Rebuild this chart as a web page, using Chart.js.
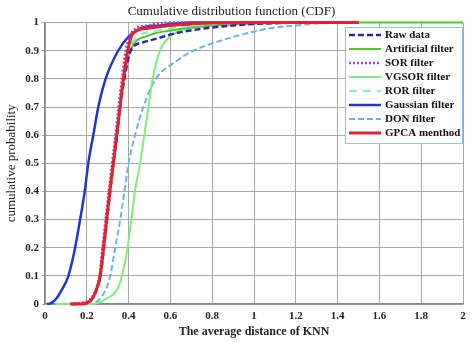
<!DOCTYPE html>
<html>
<head>
<meta charset="utf-8">
<script src="https://cdn.jsdelivr.net/npm/chart.js@4.4.1/dist/chart.umd.min.js"></script>
<style>
    html, body { margin: 0; padding: 0; background: #fff; }
    #wrap { width: 474px; height: 343px; }
</style>
</head>
<body>
<div id="wrap"><canvas id="cdfChart" width="474" height="343"></canvas></div>
<script>
// tick labels
const xTicks = [0, 0.2, 0.4, 0.6, 0.8, 1, 1.2, 1.4, 1.6, 1.8, 2];
const xTickLabels = ["0", "0.2", "0.4", "0.6", "0.8", "1", "1.2", "1.4", "1.6", "1.8", "2"];
const yTicks = [0, 0.1, 0.2, 0.3, 0.4, 0.5, 0.6, 0.7, 0.8, 0.9, 1];
const yTickLabels = ["0", "0.1", "0.2", "0.3", "0.4", "0.5", "0.6", "0.7", "0.8", "0.9", "1"];

// series (x = average KNN distance, y = cumulative probability)
const rawX = [0.13, 0.2, 0.235, 0.265, 0.282, 0.297, 0.312, 0.328, 0.345, 0.36, 0.38, 0.41, 0.47, 0.534, 0.614, 0.77, 0.9, 1.0, 1.3, 1.5];
const rawY = [0, 0.005, 0.03, 0.1, 0.2, 0.3, 0.4, 0.5, 0.6, 0.7, 0.8, 0.9, 0.93, 0.943, 0.96, 0.98, 0.99, 0.995, 1, 1];

const artificialX = [0.13, 0.2, 0.235, 0.265, 0.281, 0.296, 0.311, 0.327, 0.343, 0.359, 0.377, 0.407, 0.5, 0.61, 0.74, 1.0, 1.5, 2.0];
const artificialY = [0, 0.005, 0.03, 0.1, 0.2, 0.3, 0.4, 0.5, 0.6, 0.7, 0.8, 0.9, 0.955, 0.973, 0.985, 0.997, 1, 1];

const sorX = [0.12, 0.2, 0.23, 0.26, 0.275, 0.29, 0.305, 0.321, 0.337, 0.352, 0.368, 0.386, 0.42, 0.49, 0.6, 1.5];
const sorY = [0, 0.01, 0.03, 0.1, 0.2, 0.3, 0.4, 0.5, 0.6, 0.7, 0.8, 0.9, 0.97, 0.99, 1, 1];

const vgsorX = [0.05, 0.22, 0.26, 0.296, 0.344, 0.368, 0.395, 0.413, 0.43, 0.455, 0.475, 0.495, 0.515, 0.55, 0.606, 0.69, 0.85, 1.2, 1.5];
const vgsorY = [0, 0, 0.005, 0.02, 0.05, 0.1, 0.2, 0.3, 0.4, 0.5, 0.6, 0.7, 0.8, 0.9, 0.955, 0.98, 0.995, 1, 1];

const rorX = [0.13, 0.2, 0.235, 0.263, 0.279, 0.294, 0.309, 0.325, 0.341, 0.357, 0.373, 0.4, 0.44, 0.52, 0.65, 1.0, 1.5];
const rorY = [0, 0.005, 0.03, 0.1, 0.2, 0.3, 0.4, 0.5, 0.6, 0.7, 0.8, 0.9, 0.95, 0.968, 0.985, 0.998, 1];

const gaussianX = [0.01, 0.025, 0.05, 0.08, 0.112, 0.144, 0.168, 0.19, 0.207, 0.231, 0.255, 0.29, 0.35, 0.4, 0.46, 0.55, 0.7, 1.5];
const gaussianY = [0, 0.002, 0.015, 0.05, 0.1, 0.2, 0.3, 0.4, 0.5, 0.6, 0.7, 0.8, 0.9, 0.95, 0.98, 0.99, 1, 1];

const donX = [0.2, 0.25, 0.29, 0.312, 0.336, 0.36, 0.38, 0.4, 0.431, 0.47, 0.53, 0.614, 0.71, 0.85, 1.0, 1.08, 1.2, 1.4, 1.5];
const donY = [0, 0.01, 0.05, 0.1, 0.2, 0.3, 0.4, 0.5, 0.6, 0.7, 0.8, 0.856, 0.9, 0.938, 0.968, 0.98, 0.99, 1, 1];

const gpcaX = [0.12, 0.18, 0.216, 0.232, 0.25, 0.264, 0.28, 0.295, 0.31, 0.327, 0.343, 0.359, 0.375, 0.396, 0.42, 0.49, 0.7, 1.0, 1.5];
const gpcaY = [0, 0, 0.01, 0.026, 0.06, 0.1, 0.2, 0.3, 0.4, 0.5, 0.6, 0.7, 0.8, 0.9, 0.96, 0.98, 0.995, 1, 1];

function toPoints(xs, ys) {
    return xs.map((x, i) => ({ x: x, y: ys[i] }));
}

function makeSeries(label, xs, ys, color, width, dash, order) {
    return {
        label: label,
        data: toPoints(xs, ys),
        borderColor: color,
        backgroundColor: color,
        borderWidth: width,
        borderDash: dash,
        pointRadius: 0,
        cubicInterpolationMode: 'monotone',
        fill: false,
        clip: 4,
        order: order
    };
}

const datasets = [
    makeSeries('Raw data', rawX, rawY, '#2a24b8', 2.5, [6, 3], 2),
    makeSeries('Artificial filter', artificialX, artificialY, '#4ccc1e', 2, [], 5),
    makeSeries('SOR filter', sorX, sorY, '#a43fd2', 2.5, [2, 2], 1),
    makeSeries('VGSOR filter', vgsorX, vgsorY, '#7fee7f', 2, [], 6),
    makeSeries('ROR filter', rorX, rorY, '#86e6da', 2, [8, 6], 4),
    makeSeries('Gaussian filter', gaussianX, gaussianY, '#2036d4', 2.5, [], 3),
    makeSeries('DON filter', donX, donY, '#68b6e6', 2, [6, 3], 7),
    makeSeries('GPCA menthod', gpcaX, gpcaY, '#e8202c', 3, [], 0)
];

// legend box drawn inside the plot, top-right
const legendBox = {
    id: 'legendBox',
    afterDraw(chart) {
        const ctx = chart.ctx;
        const x0 = 345, y0 = 27, w = 117, h = 116;
        ctx.save();
        ctx.fillStyle = '#ffffff';
        ctx.fillRect(x0, y0, w, h);
        ctx.strokeStyle = '#8cc4e4';
        ctx.lineWidth = 1;
        ctx.strokeRect(x0 + 0.5, y0 + 0.5, w, h);
        ctx.font = 'bold 11px "Liberation Serif", serif';
        ctx.textBaseline = 'middle';
        chart.data.datasets.forEach((ds, i) => {
            const y = y0 + 8 + i * 14;
            ctx.strokeStyle = ds.borderColor;
            ctx.lineWidth = ds.borderWidth;
            ctx.setLineDash(ds.borderDash || []);
            ctx.beginPath();
            ctx.moveTo(x0 + 4, y);
            ctx.lineTo(x0 + 36, y);
            ctx.stroke();
            ctx.setLineDash([]);
            ctx.fillStyle = '#111';
            ctx.fillText(ds.label, x0 + 40, y + 0.5);
        });
        ctx.restore();
    }
};

const ctx = document.getElementById('cdfChart').getContext('2d');
new Chart(ctx, {
    type: 'line',
    data: { datasets: datasets },
    options: {
        responsive: false,
        animation: false,
        layout: { padding: { left: 0, right: 11, top: 0, bottom: 0 } },
        plugins: {
            legend: { display: false },
            tooltip: { enabled: false },
            title: {
                display: true,
                text: 'Cumulative distribution function (CDF)',
                color: '#222',
                font: { family: '"Liberation Serif", serif', size: 13, weight: 'normal' },
                padding: { top: 4, bottom: 3 }
            }
        },
        scales: {
            x: {
                type: 'linear',
                min: 0,
                max: 2,
                afterBuildTicks: (scale) => { scale.ticks = xTicks.map(v => ({ value: v })); },
                afterFit: (scale) => { scale.height = 39; },
                ticks: {
                    padding: 6,
                    color: '#222',
                    font: { family: '"Liberation Serif", serif', size: 11, weight: 'bold' },
                    maxRotation: 0,
                    callback: (value) => xTickLabels[xTicks.indexOf(Math.round(value * 10) / 10)]
                },
                grid: { color: '#a6a6a6', lineWidth: 1, drawTicks: false },
                border: { color: '#8a8a8a', width: 1.5 },
                title: {
                    display: true,
                    text: 'The average distance of KNN',
                    color: '#222',
                    font: { family: '"Liberation Serif", serif', size: 12, weight: 'bold' },
                    padding: { top: 2, bottom: 4 }
                }
            },
            y: {
                min: 0,
                max: 1,
                afterBuildTicks: (scale) => { scale.ticks = yTicks.map(v => ({ value: v })); },
                afterFit: (scale) => { scale.width = 45; },
                ticks: {
                    padding: 3,
                    color: '#222',
                    font: { family: '"Liberation Serif", serif', size: 11, weight: 'bold' },
                    callback: (value) => yTickLabels[yTicks.indexOf(Math.round(value * 10) / 10)]
                },
                grid: { color: '#a6a6a6', lineWidth: 1, tickLength: 3 },
                border: { color: '#8a8a8a', width: 1.5 },
                title: {
                    display: true,
                    text: 'cumulative probability',
                    color: '#222',
                    font: { family: '"Liberation Serif", serif', size: 13, weight: 'normal' },
                    padding: { top: 4, bottom: 4 }
                }
            }
        }
    },
    plugins: [legendBox]
});
</script>
</body>
</html>
